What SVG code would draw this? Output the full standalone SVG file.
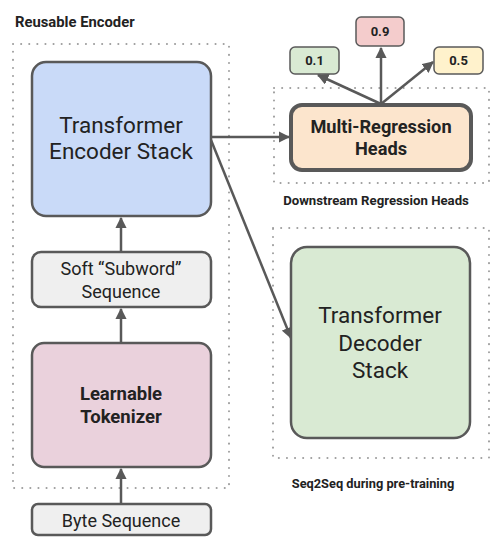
<svg xmlns="http://www.w3.org/2000/svg" width="499" height="537" viewBox="0 0 499 537">
<style>
.dot{fill:none;stroke:#9e9e9e;stroke-width:2;stroke-dasharray:0.1 8;stroke-linecap:round}
.box{stroke:#595959;stroke-width:2.5}
.t{font-family:Roboto,"Liberation Sans",sans-serif;fill:#222;text-anchor:middle}
.b{font-weight:bold}
.ln{stroke:#595959;stroke-width:2.5;fill:none}
</style>
<defs>
<marker id="ah" viewBox="0 0 10 10" refX="9" refY="5" markerWidth="4.6" markerHeight="4.6" orient="auto" markerUnits="strokeWidth">
<path d="M0,0 L10,5 L0,10 z" fill="#595959"/>
</marker>
</defs>
<rect width="499" height="537" fill="#fff"/>
<g id="groups">
<rect class="dot" x="13" y="44" width="216" height="444"/>
<text class="t b" x="15" y="27" font-size="14.8" style="text-anchor:start">Reusable Encoder</text>
<rect class="dot" x="274" y="88" width="215" height="95"/>
<text class="t b" x="376" y="205" font-size="13.2">Downstream Regression Heads</text>
<rect class="dot" x="273" y="228" width="216" height="230"/>
<text class="t b" x="373" y="488" font-size="12.8">Seq2Seq during pre-training</text>
</g>
<g id="connectors">
<line class="ln" x1="121" y1="504" x2="121" y2="469" marker-end="url(#ah)"/>
<line class="ln" x1="121" y1="343" x2="121" y2="309" marker-end="url(#ah)"/>
<line class="ln" x1="121" y1="252" x2="121" y2="218" marker-end="url(#ah)"/>
<line class="ln" x1="211" y1="137" x2="289" y2="137" marker-end="url(#ah)"/>
<line class="ln" x1="211" y1="140" x2="291" y2="338" marker-end="url(#ah)"/>
<line class="ln" x1="381" y1="104" x2="318" y2="75" marker-end="url(#ah)"/>
<line class="ln" x1="381" y1="104" x2="381" y2="48" marker-end="url(#ah)"/>
<line class="ln" x1="381" y1="104" x2="433" y2="62" marker-end="url(#ah)"/>
</g>
<g id="encoder">
<rect class="box" x="32" y="62" width="179" height="154" rx="14" fill="#c9daf8"/>
<text class="t" x="121" y="133" font-size="22.5">Transformer</text>
<text class="t" x="121" y="159" font-size="22.5">Encoder Stack</text>
</g>
<g id="soft-subword">
<rect class="box" x="32" y="252" width="179" height="55" rx="9" fill="#efefef"/>
<text class="t" x="121" y="275" font-size="18">Soft “Subword”</text>
<text class="t" x="121" y="298" font-size="18">Sequence</text>
</g>
<g id="tokenizer">
<rect class="box" x="32" y="343" width="179" height="124" rx="12" fill="#ead1dc"/>
<text class="t b" x="121" y="400" font-size="18.5">Learnable</text>
<text class="t b" x="121" y="423" font-size="18.5">Tokenizer</text>
</g>
<g id="byte-sequence">
<rect class="box" x="32" y="504" width="179" height="31" rx="6" fill="#efefef"/>
<text class="t" x="121" y="527" font-size="18">Byte Sequence</text>
</g>
<g id="multi-regression">
<rect x="291" y="105" width="180" height="65" rx="11" fill="#fce5cd" stroke="#595959" stroke-width="4"/>
<text class="t b" x="381" y="133" font-size="18.2">Multi-Regression</text>
<text class="t b" x="381" y="155" font-size="18.2">Heads</text>
</g>
<g id="val-01">
<rect x="290" y="47" width="49" height="27" rx="5" fill="#d9ead3" stroke="#595959" stroke-width="1.5"/>
<text class="t b" x="314.5" y="65" font-size="13">0.1</text>
</g>
<g id="val-09">
<rect x="356" y="17" width="48" height="29" rx="5" fill="#f4cccc" stroke="#595959" stroke-width="1.5"/>
<text class="t b" x="380" y="36" font-size="13">0.9</text>
</g>
<g id="val-05">
<rect x="434" y="47" width="49" height="27" rx="5" fill="#fff2cc" stroke="#595959" stroke-width="1.5"/>
<text class="t b" x="458.5" y="65" font-size="13">0.5</text>
</g>
<g id="decoder">
<rect class="box" x="291" y="247" width="179" height="191" rx="16" fill="#d9ead3"/>
<text class="t" x="380" y="323" font-size="22.5">Transformer</text>
<text class="t" x="380" y="351" font-size="22.5">Decoder</text>
<text class="t" x="380" y="378" font-size="22.5">Stack</text>
</g>
</svg>
